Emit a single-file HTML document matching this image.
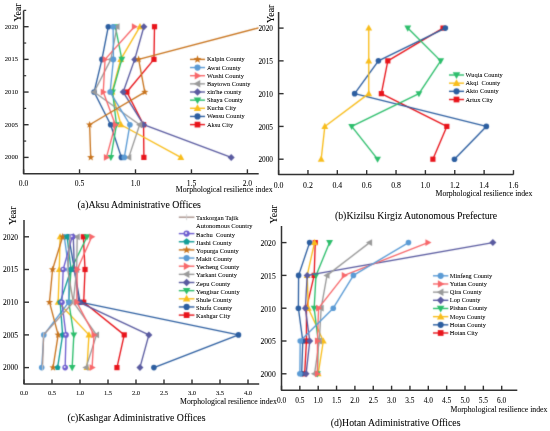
<!DOCTYPE html>
<html><head><meta charset="utf-8"><title>Morphological resilience index</title>
<style>
html,body{margin:0;padding:0;background:#fff;}
body{width:550px;height:431px;overflow:hidden;}
svg{display:block;}
#w{width:550px;height:431px;}
text{font-family:"Liberation Serif","Times New Roman",serif;}
</style></head><body>
<div id="w"><svg width="550" height="431" viewBox="0 0 550 431" font-family="'Liberation Serif', 'Times New Roman', serif"><g filter="url(#bl)"><rect width="550" height="431" fill="#fff"/><defs><filter id="bl" x="0" y="0" width="550" height="431" filterUnits="userSpaceOnUse" color-interpolation-filters="sRGB"><feConvolveMatrix order="3" kernelMatrix="0.0367 0.1915 0.0367 0.1915 1.0000 0.1915 0.0367 0.1915 0.0367" edgeMode="duplicate" preserveAlpha="true"/></filter><clipPath id="clipA"><rect x="0" y="0" width="258.5" height="200"/></clipPath></defs>
<path d="M143.89 157.4 L143.56 124.72 L126.88 92.05 L153.96 59.38 L154.52 26.7" fill="none" stroke="#E8141B" stroke-width="1.35" stroke-linejoin="round"/>
<rect x="141.29" y="154.8" width="5.2" height="5.2" fill="#E8141B"/>
<rect x="140.96" y="122.12" width="5.2" height="5.2" fill="#E8141B"/>
<rect x="124.28" y="89.45" width="5.2" height="5.2" fill="#E8141B"/>
<rect x="151.36" y="56.77" width="5.2" height="5.2" fill="#E8141B"/>
<rect x="151.92" y="24.1" width="5.2" height="5.2" fill="#E8141B"/>
<path d="M121.4 157.4 L110.66 124.72 L94.1 92.05 L101.93 59.38 L108.31 26.7" fill="none" stroke="#2C5EA0" stroke-width="1.35" stroke-linejoin="round"/>
<circle cx="121.4" cy="157.4" r="2.8" fill="#2C5EA0"/>
<circle cx="110.66" cy="124.72" r="2.8" fill="#2C5EA0"/>
<circle cx="94.1" cy="92.05" r="2.8" fill="#2C5EA0"/>
<circle cx="101.93" cy="59.38" r="2.8" fill="#2C5EA0"/>
<circle cx="108.31" cy="26.7" r="2.8" fill="#2C5EA0"/>
<path d="M180.82 157.4 L120.95 124.72 L112 92.05 L120.73 59.38 L139.98 26.7" fill="none" stroke="#F8BD1C" stroke-width="1.35" stroke-linejoin="round"/>
<polygon points="180.82,153.8 184.24,159.92 177.4,159.92" fill="#F8BD1C"/>
<polygon points="120.95,121.12 124.37,127.24 117.53,127.24" fill="#F8BD1C"/>
<polygon points="112,88.45 115.42,94.57 108.58,94.57" fill="#F8BD1C"/>
<polygon points="120.73,55.77 124.15,61.9 117.31,61.9" fill="#F8BD1C"/>
<polygon points="139.98,23.1 143.4,29.22 136.56,29.22" fill="#F8BD1C"/>
<path d="M110.88 157.4 L116.48 124.72 L112.56 92.05 L121.85 59.38 L115.36 26.7" fill="none" stroke="#2DBE6C" stroke-width="1.35" stroke-linejoin="round"/>
<polygon points="110.88,161 114.3,154.88 107.46,154.88" fill="#2DBE6C"/>
<polygon points="116.48,128.32 119.9,122.2 113.06,122.2" fill="#2DBE6C"/>
<polygon points="112.56,95.65 115.98,89.53 109.14,89.53" fill="#2DBE6C"/>
<polygon points="121.85,62.98 125.27,56.85 118.43,56.85" fill="#2DBE6C"/>
<polygon points="115.36,30.3 118.78,24.18 111.94,24.18" fill="#2DBE6C"/>
<path d="M231.17 157.4 L143.56 124.72 L123.19 92.05 L134.72 59.38 L143.89 26.7" fill="none" stroke="#5A5BA0" stroke-width="1.35" stroke-linejoin="round"/>
<polygon points="231.17,153.9 234.67,157.4 231.17,160.9 227.67,157.4" fill="#5A5BA0"/>
<polygon points="143.56,121.22 147.06,124.72 143.56,128.22 140.06,124.72" fill="#5A5BA0"/>
<polygon points="123.19,88.55 126.69,92.05 123.19,95.55 119.69,92.05" fill="#5A5BA0"/>
<polygon points="134.72,55.88 138.22,59.38 134.72,62.88 131.22,59.38" fill="#5A5BA0"/>
<polygon points="143.89,23.2 147.39,26.7 143.89,30.2 140.39,26.7" fill="#5A5BA0"/>
<path d="M128.79 157.4 L139.64 124.72 L94.1 92.05 L110.88 59.38 L117.04 26.7" fill="none" stroke="#9A9A9A" stroke-width="1.35" stroke-linejoin="round"/>
<polygon points="125.19,157.4 131.31,153.98 131.31,160.82" fill="#9A9A9A"/>
<polygon points="136.04,124.72 142.16,121.3 142.16,128.14" fill="#9A9A9A"/>
<polygon points="90.5,92.05 96.62,88.63 96.62,95.47" fill="#9A9A9A"/>
<polygon points="107.28,59.38 113.4,55.95 113.4,62.8" fill="#9A9A9A"/>
<polygon points="113.44,26.7 119.56,23.28 119.56,30.12" fill="#9A9A9A"/>
<path d="M106.41 157.4 L115.36 124.72 L103.27 92.05 L105.06 59.38 L134.38 26.7" fill="none" stroke="#F7686B" stroke-width="1.35" stroke-linejoin="round"/>
<polygon points="110.01,157.4 103.89,153.98 103.89,160.82" fill="#F7686B"/>
<polygon points="118.96,124.72 112.84,121.3 112.84,128.14" fill="#F7686B"/>
<polygon points="106.87,92.05 100.75,88.63 100.75,95.47" fill="#F7686B"/>
<polygon points="108.66,59.38 102.54,55.95 102.54,62.8" fill="#F7686B"/>
<polygon points="137.98,26.7 131.86,23.28 131.86,30.12" fill="#F7686B"/>
<path d="M124.31 157.4 L129.91 124.72 L110.1 92.05 L113.46 59.38 L113.12 26.7" fill="none" stroke="#5B9BD5" stroke-width="1.35" stroke-linejoin="round"/>
<circle cx="124.31" cy="157.4" r="2.8" fill="#5B9BD5"/>
<circle cx="129.91" cy="124.72" r="2.8" fill="#5B9BD5"/>
<circle cx="110.1" cy="92.05" r="2.8" fill="#5B9BD5"/>
<circle cx="113.46" cy="59.38" r="2.8" fill="#5B9BD5"/>
<circle cx="113.12" cy="26.7" r="2.8" fill="#5B9BD5"/>
<path d="M90.74 157.4 L89.62 124.72 L144.79 92.05 L138.63 59.38 L263.07 26.7" fill="none" stroke="#C8741E" stroke-width="1.35" stroke-linejoin="round" clip-path="url(#clipA)"/>
<polygon points="90.74,153.6 91.68,156.11 94.35,156.23 92.26,157.89 92.97,160.47 90.74,159 88.51,160.47 89.22,157.89 87.13,156.23 89.8,156.11" fill="#C8741E"/>
<polygon points="89.62,120.92 90.56,123.43 93.24,123.55 91.14,125.22 91.85,127.8 89.62,126.32 87.39,127.8 88.1,125.22 86.01,123.55 88.68,123.43" fill="#C8741E"/>
<polygon points="144.79,88.25 145.73,90.76 148.4,90.88 146.31,92.54 147.02,95.12 144.79,93.65 142.55,95.12 143.27,92.54 141.17,90.88 143.85,90.76" fill="#C8741E"/>
<polygon points="138.63,55.58 139.57,58.08 142.25,58.2 140.15,59.87 140.87,62.45 138.63,60.98 136.4,62.45 137.11,59.87 135.02,58.2 137.69,58.08" fill="#C8741E"/>
<line x1="190" y1="59.4" x2="205" y2="59.4" stroke="#C8741E" stroke-width="1.4"/>
<polygon points="197.5,55.22 198.53,57.98 201.48,58.11 199.17,59.94 199.96,62.78 197.5,61.16 195.04,62.78 195.83,59.94 193.52,58.11 196.47,57.98" fill="#C8741E"/>
<line x1="190" y1="67.55" x2="205" y2="67.55" stroke="#5B9BD5" stroke-width="1.4"/>
<circle cx="197.5" cy="67.55" r="3.08" fill="#5B9BD5"/>
<line x1="190" y1="75.7" x2="205" y2="75.7" stroke="#F7686B" stroke-width="1.4"/>
<polygon points="201.46,75.7 194.73,71.94 194.73,79.46" fill="#F7686B"/>
<line x1="190" y1="83.85" x2="205" y2="83.85" stroke="#9A9A9A" stroke-width="1.4"/>
<polygon points="193.54,83.85 200.27,80.09 200.27,87.61" fill="#9A9A9A"/>
<line x1="190" y1="92" x2="205" y2="92" stroke="#5A5BA0" stroke-width="1.4"/>
<polygon points="197.5,88.15 201.35,92 197.5,95.85 193.65,92" fill="#5A5BA0"/>
<line x1="190" y1="100.15" x2="205" y2="100.15" stroke="#2DBE6C" stroke-width="1.4"/>
<polygon points="197.5,104.11 201.26,97.38 193.74,97.38" fill="#2DBE6C"/>
<line x1="190" y1="108.3" x2="205" y2="108.3" stroke="#F8BD1C" stroke-width="1.4"/>
<polygon points="197.5,104.34 201.26,111.07 193.74,111.07" fill="#F8BD1C"/>
<line x1="190" y1="116.45" x2="205" y2="116.45" stroke="#2C5EA0" stroke-width="1.4"/>
<circle cx="197.5" cy="116.45" r="3.08" fill="#2C5EA0"/>
<line x1="190" y1="124.6" x2="205" y2="124.6" stroke="#E8141B" stroke-width="1.4"/>
<rect x="194.64" y="121.74" width="5.72" height="5.72" fill="#E8141B"/>
<path d="M432.89 159.2 L446.83 126.42 L381.36 93.65 L387.82 60.87 L443.02 28.1" fill="none" stroke="#E8141B" stroke-width="1.35" stroke-linejoin="round"/>
<rect x="430.29" y="156.6" width="5.2" height="5.2" fill="#E8141B"/>
<rect x="444.23" y="123.82" width="5.2" height="5.2" fill="#E8141B"/>
<rect x="378.76" y="91.05" width="5.2" height="5.2" fill="#E8141B"/>
<rect x="385.22" y="58.27" width="5.2" height="5.2" fill="#E8141B"/>
<rect x="440.42" y="25.5" width="5.2" height="5.2" fill="#E8141B"/>
<path d="M454.47 159.2 L486.32 126.42 L354.64 93.65 L378.42 60.87 L445.36 28.1" fill="none" stroke="#2C5EA0" stroke-width="1.35" stroke-linejoin="round"/>
<circle cx="454.47" cy="159.2" r="2.8" fill="#2C5EA0"/>
<circle cx="486.32" cy="126.42" r="2.8" fill="#2C5EA0"/>
<circle cx="354.64" cy="93.65" r="2.8" fill="#2C5EA0"/>
<circle cx="378.42" cy="60.87" r="2.8" fill="#2C5EA0"/>
<circle cx="445.36" cy="28.1" r="2.8" fill="#2C5EA0"/>
<path d="M321.17 159.2 L324.84 126.42 L368.74 93.65 L368.74 60.87 L368.74 28.1" fill="none" stroke="#F8BD1C" stroke-width="1.35" stroke-linejoin="round"/>
<polygon points="321.17,155.6 324.59,161.72 317.75,161.72" fill="#F8BD1C"/>
<polygon points="324.84,122.82 328.26,128.94 321.42,128.94" fill="#F8BD1C"/>
<polygon points="368.74,90.05 372.16,96.17 365.32,96.17" fill="#F8BD1C"/>
<polygon points="368.74,57.27 372.16,63.39 365.32,63.39" fill="#F8BD1C"/>
<polygon points="368.74,24.5 372.16,30.62 365.32,30.62" fill="#F8BD1C"/>
<path d="M377.54 159.2 L351.71 126.42 L418.94 93.65 L440.67 60.87 L407.78 28.1" fill="none" stroke="#2DBE6C" stroke-width="1.35" stroke-linejoin="round"/>
<polygon points="377.54,162.8 380.96,156.68 374.12,156.68" fill="#2DBE6C"/>
<polygon points="351.71,130.02 355.13,123.9 348.29,123.9" fill="#2DBE6C"/>
<polygon points="418.94,97.25 422.36,91.13 415.52,91.13" fill="#2DBE6C"/>
<polygon points="440.67,64.47 444.09,58.35 437.25,58.35" fill="#2DBE6C"/>
<polygon points="407.78,31.7 411.2,25.58 404.36,25.58" fill="#2DBE6C"/>
<line x1="449" y1="75" x2="464" y2="75" stroke="#2DBE6C" stroke-width="1.4"/>
<polygon points="456.5,78.96 460.26,72.23 452.74,72.23" fill="#2DBE6C"/>
<line x1="449" y1="83.17" x2="464" y2="83.17" stroke="#F8BD1C" stroke-width="1.4"/>
<polygon points="456.5,79.21 460.26,85.94 452.74,85.94" fill="#F8BD1C"/>
<line x1="449" y1="91.34" x2="464" y2="91.34" stroke="#2C5EA0" stroke-width="1.4"/>
<circle cx="456.5" cy="91.34" r="3.08" fill="#2C5EA0"/>
<line x1="449" y1="99.51" x2="464" y2="99.51" stroke="#E8141B" stroke-width="1.4"/>
<rect x="453.64" y="96.65" width="5.72" height="5.72" fill="#E8141B"/>
<path d="M116.96 367.6 L124.24 334.9 L83.7 302.2 L85.04 269.5 L83.36 236.8" fill="none" stroke="#E8141B" stroke-width="1.35" stroke-linejoin="round"/>
<rect x="114.36" y="365" width="5.2" height="5.2" fill="#E8141B"/>
<rect x="121.64" y="332.3" width="5.2" height="5.2" fill="#E8141B"/>
<rect x="81.1" y="299.6" width="5.2" height="5.2" fill="#E8141B"/>
<rect x="82.44" y="266.9" width="5.2" height="5.2" fill="#E8141B"/>
<rect x="80.76" y="234.2" width="5.2" height="5.2" fill="#E8141B"/>
<path d="M153.92 367.6 L238.48 334.9 L80 302.2 L74.4 269.5 L68.8 236.8" fill="none" stroke="#2C5EA0" stroke-width="1.35" stroke-linejoin="round"/>
<circle cx="153.92" cy="367.6" r="2.8" fill="#2C5EA0"/>
<circle cx="238.48" cy="334.9" r="2.8" fill="#2C5EA0"/>
<circle cx="80" cy="302.2" r="2.8" fill="#2C5EA0"/>
<circle cx="74.4" cy="269.5" r="2.8" fill="#2C5EA0"/>
<circle cx="68.8" cy="236.8" r="2.8" fill="#2C5EA0"/>
<path d="M87 367.6 L88.96 334.9 L58.16 302.2 L59.28 269.5 L60.12 236.8" fill="none" stroke="#F8BD1C" stroke-width="1.35" stroke-linejoin="round"/>
<polygon points="87,364 90.42,370.12 83.58,370.12" fill="#F8BD1C"/>
<polygon points="88.96,331.3 92.38,337.42 85.54,337.42" fill="#F8BD1C"/>
<polygon points="58.16,298.6 61.58,304.72 54.74,304.72" fill="#F8BD1C"/>
<polygon points="59.28,265.9 62.7,272.02 55.86,272.02" fill="#F8BD1C"/>
<polygon points="60.12,233.2 63.54,239.32 56.7,239.32" fill="#F8BD1C"/>
<path d="M72.16 367.6 L73.84 334.9 L68.8 302.2 L71.04 269.5 L87 236.8" fill="none" stroke="#2DBE6C" stroke-width="1.35" stroke-linejoin="round"/>
<polygon points="72.16,371.2 75.58,365.08 68.74,365.08" fill="#2DBE6C"/>
<polygon points="73.84,338.5 77.26,332.38 70.42,332.38" fill="#2DBE6C"/>
<polygon points="68.8,305.8 72.22,299.68 65.38,299.68" fill="#2DBE6C"/>
<polygon points="71.04,273.1 74.46,266.98 67.62,266.98" fill="#2DBE6C"/>
<polygon points="87,240.4 90.42,234.28 83.58,234.28" fill="#2DBE6C"/>
<path d="M139.92 367.6 L148.88 334.9 L78.88 302.2 L74.4 269.5 L73.28 236.8" fill="none" stroke="#5A5BA0" stroke-width="1.35" stroke-linejoin="round"/>
<polygon points="139.92,364.1 143.42,367.6 139.92,371.1 136.42,367.6" fill="#5A5BA0"/>
<polygon points="148.88,331.4 152.38,334.9 148.88,338.4 145.38,334.9" fill="#5A5BA0"/>
<polygon points="78.88,298.7 82.38,302.2 78.88,305.7 75.38,302.2" fill="#5A5BA0"/>
<polygon points="74.4,266 77.9,269.5 74.4,273 70.9,269.5" fill="#5A5BA0"/>
<polygon points="73.28,233.3 76.78,236.8 73.28,240.3 69.78,236.8" fill="#5A5BA0"/>
<path d="M85.99 367.6 L96.52 334.9 L73.28 302.2 L76.64 269.5 L77.2 236.8" fill="none" stroke="#9A9A9A" stroke-width="1.35" stroke-linejoin="round"/>
<polygon points="82.39,367.6 88.51,364.18 88.51,371.02" fill="#9A9A9A"/>
<polygon points="92.92,334.9 99.04,331.48 99.04,338.32" fill="#9A9A9A"/>
<polygon points="69.68,302.2 75.8,298.78 75.8,305.62" fill="#9A9A9A"/>
<polygon points="73.04,269.5 79.16,266.08 79.16,272.92" fill="#9A9A9A"/>
<polygon points="73.6,236.8 79.72,233.38 79.72,240.22" fill="#9A9A9A"/>
<path d="M92.1 367.6 L94 334.9 L76.81 302.2 L77.2 269.5 L91.76 236.8" fill="none" stroke="#F7686B" stroke-width="1.35" stroke-linejoin="round"/>
<polygon points="95.7,367.6 89.58,364.18 89.58,371.02" fill="#F7686B"/>
<polygon points="97.6,334.9 91.48,331.48 91.48,338.32" fill="#F7686B"/>
<polygon points="80.41,302.2 74.29,298.78 74.29,305.62" fill="#F7686B"/>
<polygon points="80.8,269.5 74.68,266.08 74.68,272.92" fill="#F7686B"/>
<polygon points="95.36,236.8 89.24,233.38 89.24,240.22" fill="#F7686B"/>
<path d="M41.7 367.6 L43.82 334.9 L68.8 302.2 L68.8 269.5 L64.32 236.8" fill="none" stroke="#5B9BD5" stroke-width="1.35" stroke-linejoin="round"/>
<circle cx="41.7" cy="367.6" r="2.8" fill="#5B9BD5"/>
<circle cx="43.82" cy="334.9" r="2.8" fill="#5B9BD5"/>
<circle cx="68.8" cy="302.2" r="2.8" fill="#5B9BD5"/>
<circle cx="68.8" cy="269.5" r="2.8" fill="#5B9BD5"/>
<circle cx="64.32" cy="236.8" r="2.8" fill="#5B9BD5"/>
<path d="M53.01 367.6 L58.16 334.9 L49.48 302.2 L52.56 269.5 L62.64 236.8" fill="none" stroke="#C8741E" stroke-width="1.35" stroke-linejoin="round"/>
<polygon points="53.01,363.8 53.95,366.31 56.62,366.43 54.53,368.09 55.24,370.67 53.01,369.2 50.77,370.67 51.49,368.09 49.39,366.43 52.07,366.31" fill="#C8741E"/>
<polygon points="58.16,331.1 59.1,333.61 61.77,333.73 59.68,335.39 60.39,337.97 58.16,336.5 55.93,337.97 56.64,335.39 54.55,333.73 57.22,333.61" fill="#C8741E"/>
<polygon points="49.48,298.4 50.42,300.91 53.09,301.03 51,302.69 51.71,305.27 49.48,303.8 47.25,305.27 47.96,302.69 45.87,301.03 48.54,300.91" fill="#C8741E"/>
<polygon points="52.56,265.7 53.5,268.21 56.17,268.33 54.08,269.99 54.79,272.57 52.56,271.1 50.33,272.57 51.04,269.99 48.95,268.33 51.62,268.21" fill="#C8741E"/>
<polygon points="62.64,233 63.58,235.51 66.25,235.63 64.16,237.29 64.87,239.87 62.64,238.4 60.41,239.87 61.12,237.29 59.03,235.63 61.7,235.51" fill="#C8741E"/>
<path d="M57.6 367.6 L62.64 334.9 L60.18 302.2 L71.04 269.5 L67.12 236.8" fill="none" stroke="#129E98" stroke-width="1.35" stroke-linejoin="round"/>
<polygon points="57.6,364.5 60.55,366.64 59.42,370.11 55.78,370.11 54.65,366.64" fill="#129E98"/>
<polygon points="62.64,331.8 65.59,333.94 64.46,337.41 60.82,337.41 59.69,333.94" fill="#129E98"/>
<polygon points="60.18,299.1 63.12,301.24 62,304.71 58.35,304.71 57.23,301.24" fill="#129E98"/>
<polygon points="71.04,266.4 73.99,268.54 72.86,272.01 69.22,272.01 68.09,268.54" fill="#129E98"/>
<polygon points="67.12,233.7 70.07,235.84 68.94,239.31 65.3,239.31 64.17,235.84" fill="#129E98"/>
<path d="M65.16 367.6 L66 334.9 L61.91 302.2 L63.2 269.5 L72.16 236.8" fill="none" stroke="#6E5ECF" stroke-width="1.35" stroke-linejoin="round"/>
<circle cx="65.16" cy="367.6" r="2.8" fill="#6E5ECF"/><circle cx="64.66" cy="367.1" r="1" fill="#fff" opacity="0.85"/>
<circle cx="66" cy="334.9" r="2.8" fill="#6E5ECF"/><circle cx="65.5" cy="334.4" r="1" fill="#fff" opacity="0.85"/>
<circle cx="61.91" cy="302.2" r="2.8" fill="#6E5ECF"/><circle cx="61.41" cy="301.7" r="1" fill="#fff" opacity="0.85"/>
<circle cx="63.2" cy="269.5" r="2.8" fill="#6E5ECF"/><circle cx="62.7" cy="269" r="1" fill="#fff" opacity="0.85"/>
<circle cx="72.16" cy="236.8" r="2.8" fill="#6E5ECF"/><circle cx="71.66" cy="236.3" r="1" fill="#fff" opacity="0.85"/>
<path d="M42.48 367.6 L43.6 334.9 L73.28 302.2 L67.68 269.5 L69.92 236.8" fill="none" stroke="#A8928C" stroke-width="1.35" stroke-linejoin="round"/>
<line x1="42.48" y1="364.6" x2="42.48" y2="370.6" stroke="#ccc" stroke-width="0.8"/>
<line x1="43.6" y1="331.9" x2="43.6" y2="337.9" stroke="#ccc" stroke-width="0.8"/>
<line x1="73.28" y1="299.2" x2="73.28" y2="305.2" stroke="#ccc" stroke-width="0.8"/>
<line x1="67.68" y1="266.5" x2="67.68" y2="272.5" stroke="#ccc" stroke-width="0.8"/>
<line x1="69.92" y1="233.8" x2="69.92" y2="239.8" stroke="#ccc" stroke-width="0.8"/>
<line x1="178.8" y1="217.2" x2="194.4" y2="217.2" stroke="#A8928C" stroke-width="1.4"/>
<line x1="186.6" y1="214.2" x2="186.6" y2="220.2" stroke="#ccc" stroke-width="0.8"/>
<line x1="178.8" y1="233.6" x2="194.4" y2="233.6" stroke="#6E5ECF" stroke-width="1.4"/>
<circle cx="186.6" cy="233.6" r="3.08" fill="#6E5ECF"/><circle cx="186.1" cy="233.1" r="1.1" fill="#fff" opacity="0.85"/>
<line x1="178.8" y1="241.75" x2="194.4" y2="241.75" stroke="#129E98" stroke-width="1.4"/>
<polygon points="186.6,238.34 189.84,240.7 188.6,244.51 184.6,244.51 183.36,240.7" fill="#129E98"/>
<line x1="178.8" y1="249.9" x2="194.4" y2="249.9" stroke="#C8741E" stroke-width="1.4"/>
<polygon points="186.6,245.72 187.63,248.48 190.58,248.61 188.27,250.44 189.06,253.28 186.6,251.66 184.14,253.28 184.93,250.44 182.62,248.61 185.57,248.48" fill="#C8741E"/>
<line x1="178.8" y1="258.05" x2="194.4" y2="258.05" stroke="#5B9BD5" stroke-width="1.4"/>
<circle cx="186.6" cy="258.05" r="3.08" fill="#5B9BD5"/>
<line x1="178.8" y1="266.2" x2="194.4" y2="266.2" stroke="#F7686B" stroke-width="1.4"/>
<polygon points="190.56,266.2 183.83,262.44 183.83,269.96" fill="#F7686B"/>
<line x1="178.8" y1="274.35" x2="194.4" y2="274.35" stroke="#9A9A9A" stroke-width="1.4"/>
<polygon points="182.64,274.35 189.37,270.59 189.37,278.11" fill="#9A9A9A"/>
<line x1="178.8" y1="282.5" x2="194.4" y2="282.5" stroke="#5A5BA0" stroke-width="1.4"/>
<polygon points="186.6,278.65 190.45,282.5 186.6,286.35 182.75,282.5" fill="#5A5BA0"/>
<line x1="178.8" y1="290.65" x2="194.4" y2="290.65" stroke="#2DBE6C" stroke-width="1.4"/>
<polygon points="186.6,294.61 190.36,287.88 182.84,287.88" fill="#2DBE6C"/>
<line x1="178.8" y1="298.8" x2="194.4" y2="298.8" stroke="#F8BD1C" stroke-width="1.4"/>
<polygon points="186.6,294.84 190.36,301.57 182.84,301.57" fill="#F8BD1C"/>
<line x1="178.8" y1="306.95" x2="194.4" y2="306.95" stroke="#2C5EA0" stroke-width="1.4"/>
<circle cx="186.6" cy="306.95" r="3.08" fill="#2C5EA0"/>
<line x1="178.8" y1="315.1" x2="194.4" y2="315.1" stroke="#E8141B" stroke-width="1.4"/>
<rect x="183.74" y="312.24" width="5.72" height="5.72" fill="#E8141B"/>
<path d="M304.62 373.8 L306.46 341 L306.46 308.2 L314.16 275.4 L315.26 242.6" fill="none" stroke="#E8141B" stroke-width="1.35" stroke-linejoin="round"/>
<rect x="302.02" y="371.2" width="5.2" height="5.2" fill="#E8141B"/>
<rect x="303.86" y="338.4" width="5.2" height="5.2" fill="#E8141B"/>
<rect x="303.86" y="305.6" width="5.2" height="5.2" fill="#E8141B"/>
<rect x="311.56" y="272.8" width="5.2" height="5.2" fill="#E8141B"/>
<rect x="312.66" y="240" width="5.2" height="5.2" fill="#E8141B"/>
<path d="M301.69 373.8 L302.79 341 L298.38 308.2 L298.6 275.4 L309.61 242.6" fill="none" stroke="#2C5EA0" stroke-width="1.35" stroke-linejoin="round"/>
<circle cx="301.69" cy="373.8" r="2.8" fill="#2C5EA0"/>
<circle cx="302.79" cy="341" r="2.8" fill="#2C5EA0"/>
<circle cx="298.38" cy="308.2" r="2.8" fill="#2C5EA0"/>
<circle cx="298.6" cy="275.4" r="2.8" fill="#2C5EA0"/>
<circle cx="309.61" cy="242.6" r="2.8" fill="#2C5EA0"/>
<path d="M318.2 373.8 L323.34 341 L308.29 308.2 L307.19 275.4 L314.53 242.6" fill="none" stroke="#F8BD1C" stroke-width="1.35" stroke-linejoin="round"/>
<polygon points="318.2,370.2 321.62,376.32 314.78,376.32" fill="#F8BD1C"/>
<polygon points="323.34,337.4 326.76,343.52 319.92,343.52" fill="#F8BD1C"/>
<polygon points="308.29,304.6 311.71,310.72 304.87,310.72" fill="#F8BD1C"/>
<polygon points="307.19,271.8 310.61,277.92 303.77,277.92" fill="#F8BD1C"/>
<polygon points="314.53,239 317.95,245.12 311.11,245.12" fill="#F8BD1C"/>
<path d="M317.47 373.8 L318.2 341 L314.16 308.2 L316 275.4 L329.58 242.6" fill="none" stroke="#2DBE6C" stroke-width="1.35" stroke-linejoin="round"/>
<polygon points="317.47,377.4 320.89,371.28 314.05,371.28" fill="#2DBE6C"/>
<polygon points="318.2,344.6 321.62,338.48 314.78,338.48" fill="#2DBE6C"/>
<polygon points="314.16,311.8 317.58,305.68 310.74,305.68" fill="#2DBE6C"/>
<polygon points="316,279 319.42,272.88 312.58,272.88" fill="#2DBE6C"/>
<polygon points="329.58,246.2 333,240.08 326.16,240.08" fill="#2DBE6C"/>
<path d="M306.09 373.8 L309.76 341 L305.36 308.2 L307.19 275.4 L492.89 242.6" fill="none" stroke="#5A5BA0" stroke-width="1.35" stroke-linejoin="round"/>
<polygon points="306.09,370.3 309.59,373.8 306.09,377.3 302.59,373.8" fill="#5A5BA0"/>
<polygon points="309.76,337.5 313.26,341 309.76,344.5 306.26,341" fill="#5A5BA0"/>
<polygon points="305.36,304.7 308.86,308.2 305.36,311.7 301.86,308.2" fill="#5A5BA0"/>
<polygon points="307.19,271.9 310.69,275.4 307.19,278.9 303.69,275.4" fill="#5A5BA0"/>
<polygon points="492.89,239.1 496.39,242.6 492.89,246.1 489.39,242.6" fill="#5A5BA0"/>
<path d="M314.53 373.8 L319.3 341 L321.14 308.2 L327.01 275.4 L369.58 242.6" fill="none" stroke="#9A9A9A" stroke-width="1.35" stroke-linejoin="round"/>
<polygon points="310.93,373.8 317.05,370.38 317.05,377.22" fill="#9A9A9A"/>
<polygon points="315.7,341 321.82,337.58 321.82,344.42" fill="#9A9A9A"/>
<polygon points="317.54,308.2 323.66,304.78 323.66,311.62" fill="#9A9A9A"/>
<polygon points="323.41,275.4 329.53,271.98 329.53,278.82" fill="#9A9A9A"/>
<polygon points="365.98,242.6 372.1,239.18 372.1,246.02" fill="#9A9A9A"/>
<path d="M317.47 373.8 L317.47 341 L318.57 308.2 L344.26 275.4 L427.93 242.6" fill="none" stroke="#F7686B" stroke-width="1.35" stroke-linejoin="round"/>
<polygon points="321.07,373.8 314.95,370.38 314.95,377.22" fill="#F7686B"/>
<polygon points="321.07,341 314.95,337.58 314.95,344.42" fill="#F7686B"/>
<polygon points="322.17,308.2 316.05,304.78 316.05,311.62" fill="#F7686B"/>
<polygon points="347.86,275.4 341.74,271.98 341.74,278.82" fill="#F7686B"/>
<polygon points="431.53,242.6 425.41,239.18 425.41,246.02" fill="#F7686B"/>
<path d="M299.85 373.8 L300.22 341 L333.25 308.2 L353.43 275.4 L408.48 242.6" fill="none" stroke="#5B9BD5" stroke-width="1.35" stroke-linejoin="round"/>
<circle cx="299.85" cy="373.8" r="2.8" fill="#5B9BD5"/>
<circle cx="300.22" cy="341" r="2.8" fill="#5B9BD5"/>
<circle cx="333.25" cy="308.2" r="2.8" fill="#5B9BD5"/>
<circle cx="353.43" cy="275.4" r="2.8" fill="#5B9BD5"/>
<circle cx="408.48" cy="242.6" r="2.8" fill="#5B9BD5"/>
<line x1="433" y1="275.8" x2="448.3" y2="275.8" stroke="#5B9BD5" stroke-width="1.4"/>
<circle cx="440.65" cy="275.8" r="3.08" fill="#5B9BD5"/>
<line x1="433" y1="283.97" x2="448.3" y2="283.97" stroke="#F7686B" stroke-width="1.4"/>
<polygon points="444.61,283.97 437.88,280.21 437.88,287.73" fill="#F7686B"/>
<line x1="433" y1="292.14" x2="448.3" y2="292.14" stroke="#9A9A9A" stroke-width="1.4"/>
<polygon points="436.69,292.14 443.42,288.38 443.42,295.9" fill="#9A9A9A"/>
<line x1="433" y1="300.31" x2="448.3" y2="300.31" stroke="#5A5BA0" stroke-width="1.4"/>
<polygon points="440.65,296.46 444.5,300.31 440.65,304.16 436.8,300.31" fill="#5A5BA0"/>
<line x1="433" y1="308.48" x2="448.3" y2="308.48" stroke="#2DBE6C" stroke-width="1.4"/>
<polygon points="440.65,312.44 444.41,305.71 436.89,305.71" fill="#2DBE6C"/>
<line x1="433" y1="316.65" x2="448.3" y2="316.65" stroke="#F8BD1C" stroke-width="1.4"/>
<polygon points="440.65,312.69 444.41,319.42 436.89,319.42" fill="#F8BD1C"/>
<line x1="433" y1="324.82" x2="448.3" y2="324.82" stroke="#2C5EA0" stroke-width="1.4"/>
<circle cx="440.65" cy="324.82" r="3.08" fill="#2C5EA0"/>
<line x1="433" y1="332.99" x2="448.3" y2="332.99" stroke="#E8141B" stroke-width="1.4"/>
<rect x="437.79" y="330.13" width="5.72" height="5.72" fill="#E8141B"/></g><g><path d="M23.6 10.4V173.8H258.7" fill="none" stroke="#333" stroke-width="1.5" stroke-linejoin="round"/>
<line x1="23.6" y1="157.4" x2="28.6" y2="157.4" stroke="#333" stroke-width="1.4"/>
<text x="18" y="156.8" font-size="6.6" text-anchor="end" font-weight="normal" dominant-baseline="central" fill="#000" stroke="#000" stroke-width="0.05">2000</text>
<line x1="23.6" y1="124.72" x2="28.6" y2="124.72" stroke="#333" stroke-width="1.4"/>
<text x="18" y="124.12" font-size="6.6" text-anchor="end" font-weight="normal" dominant-baseline="central" fill="#000" stroke="#000" stroke-width="0.05">2005</text>
<line x1="23.6" y1="92.05" x2="28.6" y2="92.05" stroke="#333" stroke-width="1.4"/>
<text x="18" y="91.45" font-size="6.6" text-anchor="end" font-weight="normal" dominant-baseline="central" fill="#000" stroke="#000" stroke-width="0.05">2010</text>
<line x1="23.6" y1="59.38" x2="28.6" y2="59.38" stroke="#333" stroke-width="1.4"/>
<text x="18" y="58.77" font-size="6.6" text-anchor="end" font-weight="normal" dominant-baseline="central" fill="#000" stroke="#000" stroke-width="0.05">2015</text>
<line x1="23.6" y1="26.7" x2="28.6" y2="26.7" stroke="#333" stroke-width="1.4"/>
<text x="18" y="26.1" font-size="6.6" text-anchor="end" font-weight="normal" dominant-baseline="central" fill="#000" stroke="#000" stroke-width="0.05">2020</text>
<line x1="23.6" y1="141.06" x2="26.2" y2="141.06" stroke="#333" stroke-width="1.2"/>
<line x1="23.6" y1="108.39" x2="26.2" y2="108.39" stroke="#333" stroke-width="1.2"/>
<line x1="23.6" y1="75.71" x2="26.2" y2="75.71" stroke="#333" stroke-width="1.2"/>
<line x1="23.6" y1="43.04" x2="26.2" y2="43.04" stroke="#333" stroke-width="1.2"/>
<line x1="23.6" y1="10.36" x2="26.2" y2="10.36" stroke="#333" stroke-width="1.2"/>
<line x1="23.6" y1="173.8" x2="23.6" y2="169.3" stroke="#333" stroke-width="1.4"/>
<text x="23.6" y="183.3" font-size="7.6" text-anchor="middle" font-weight="normal" dominant-baseline="central" fill="#000" stroke="#000" stroke-width="0.05">0.0</text>
<line x1="79.55" y1="173.8" x2="79.55" y2="169.3" stroke="#333" stroke-width="1.4"/>
<text x="79.55" y="183.3" font-size="7.6" text-anchor="middle" font-weight="normal" dominant-baseline="central" fill="#000" stroke="#000" stroke-width="0.05">0.5</text>
<line x1="135.5" y1="173.8" x2="135.5" y2="169.3" stroke="#333" stroke-width="1.4"/>
<text x="135.5" y="183.3" font-size="7.6" text-anchor="middle" font-weight="normal" dominant-baseline="central" fill="#000" stroke="#000" stroke-width="0.05">1.0</text>
<line x1="191.45" y1="173.8" x2="191.45" y2="169.3" stroke="#333" stroke-width="1.4"/>
<text x="191.45" y="183.3" font-size="7.6" text-anchor="middle" font-weight="normal" dominant-baseline="central" fill="#000" stroke="#000" stroke-width="0.05">1.5</text>
<line x1="247.4" y1="173.8" x2="247.4" y2="169.3" stroke="#333" stroke-width="1.4"/>
<text x="247.4" y="183.3" font-size="7.6" text-anchor="middle" font-weight="normal" dominant-baseline="central" fill="#000" stroke="#000" stroke-width="0.05">2.0</text>
<text x="175.8" y="189.3" font-size="7.75" text-anchor="start" font-weight="normal" dominant-baseline="central" fill="#000" stroke="#000" stroke-width="0.05">Morphological resilience index</text>
<text x="0" y="0" font-size="9.9" text-anchor="middle" dominant-baseline="central" fill="#000" stroke="#000" stroke-width="0.05" transform="translate(17.5 12.5) rotate(-90)">Year</text>
<path d="M278.6 12V174.6H513.5" fill="none" stroke="#333" stroke-width="1.5" stroke-linejoin="round"/>
<line x1="278.6" y1="159.2" x2="283.6" y2="159.2" stroke="#333" stroke-width="1.4"/>
<text x="273" y="159.8" font-size="7.3" text-anchor="end" font-weight="normal" dominant-baseline="central" fill="#000" stroke="#000" stroke-width="0.05">2000</text>
<line x1="278.6" y1="126.42" x2="283.6" y2="126.42" stroke="#333" stroke-width="1.4"/>
<text x="273" y="127.02" font-size="7.3" text-anchor="end" font-weight="normal" dominant-baseline="central" fill="#000" stroke="#000" stroke-width="0.05">2005</text>
<line x1="278.6" y1="93.65" x2="283.6" y2="93.65" stroke="#333" stroke-width="1.4"/>
<text x="273" y="94.25" font-size="7.3" text-anchor="end" font-weight="normal" dominant-baseline="central" fill="#000" stroke="#000" stroke-width="0.05">2010</text>
<line x1="278.6" y1="60.87" x2="283.6" y2="60.87" stroke="#333" stroke-width="1.4"/>
<text x="273" y="61.47" font-size="7.3" text-anchor="end" font-weight="normal" dominant-baseline="central" fill="#000" stroke="#000" stroke-width="0.05">2015</text>
<line x1="278.6" y1="28.1" x2="283.6" y2="28.1" stroke="#333" stroke-width="1.4"/>
<text x="273" y="28.7" font-size="7.3" text-anchor="end" font-weight="normal" dominant-baseline="central" fill="#000" stroke="#000" stroke-width="0.05">2020</text>
<line x1="278.6" y1="174.6" x2="278.6" y2="170.1" stroke="#333" stroke-width="1.4"/>
<text x="278.6" y="185" font-size="7.8" text-anchor="middle" font-weight="normal" dominant-baseline="central" fill="#000" stroke="#000" stroke-width="0.05">0.0</text>
<line x1="307.96" y1="174.6" x2="307.96" y2="170.1" stroke="#333" stroke-width="1.4"/>
<text x="307.96" y="185" font-size="7.8" text-anchor="middle" font-weight="normal" dominant-baseline="central" fill="#000" stroke="#000" stroke-width="0.05">0.2</text>
<line x1="337.32" y1="174.6" x2="337.32" y2="170.1" stroke="#333" stroke-width="1.4"/>
<text x="337.32" y="185" font-size="7.8" text-anchor="middle" font-weight="normal" dominant-baseline="central" fill="#000" stroke="#000" stroke-width="0.05">0.4</text>
<line x1="366.68" y1="174.6" x2="366.68" y2="170.1" stroke="#333" stroke-width="1.4"/>
<text x="366.68" y="185" font-size="7.8" text-anchor="middle" font-weight="normal" dominant-baseline="central" fill="#000" stroke="#000" stroke-width="0.05">0.6</text>
<line x1="396.04" y1="174.6" x2="396.04" y2="170.1" stroke="#333" stroke-width="1.4"/>
<text x="396.04" y="185" font-size="7.8" text-anchor="middle" font-weight="normal" dominant-baseline="central" fill="#000" stroke="#000" stroke-width="0.05">0.8</text>
<line x1="425.4" y1="174.6" x2="425.4" y2="170.1" stroke="#333" stroke-width="1.4"/>
<text x="425.4" y="185" font-size="7.8" text-anchor="middle" font-weight="normal" dominant-baseline="central" fill="#000" stroke="#000" stroke-width="0.05">1.0</text>
<line x1="454.76" y1="174.6" x2="454.76" y2="170.1" stroke="#333" stroke-width="1.4"/>
<text x="454.76" y="185" font-size="7.8" text-anchor="middle" font-weight="normal" dominant-baseline="central" fill="#000" stroke="#000" stroke-width="0.05">1.2</text>
<line x1="484.12" y1="174.6" x2="484.12" y2="170.1" stroke="#333" stroke-width="1.4"/>
<text x="484.12" y="185" font-size="7.8" text-anchor="middle" font-weight="normal" dominant-baseline="central" fill="#000" stroke="#000" stroke-width="0.05">1.4</text>
<line x1="513.48" y1="174.6" x2="513.48" y2="170.1" stroke="#333" stroke-width="1.4"/>
<text x="513.48" y="185" font-size="7.8" text-anchor="middle" font-weight="normal" dominant-baseline="central" fill="#000" stroke="#000" stroke-width="0.05">1.6</text>
<text x="435.5" y="193.5" font-size="7.75" text-anchor="start" font-weight="normal" dominant-baseline="central" fill="#000" stroke="#000" stroke-width="0.05">Morphological resilience index</text>
<text x="0" y="0" font-size="9.9" text-anchor="middle" dominant-baseline="central" fill="#000" stroke="#000" stroke-width="0.05" transform="translate(270.5 13.8) rotate(-90)">Year</text>
<path d="M24 220V384H259.2" fill="none" stroke="#333" stroke-width="1.5" stroke-linejoin="round"/>
<line x1="24" y1="367.6" x2="29" y2="367.6" stroke="#333" stroke-width="1.4"/>
<text x="18" y="367.9" font-size="7.5" text-anchor="end" font-weight="normal" dominant-baseline="central" fill="#000" stroke="#000" stroke-width="0.05">2000</text>
<line x1="24" y1="334.9" x2="29" y2="334.9" stroke="#333" stroke-width="1.4"/>
<text x="18" y="335.2" font-size="7.5" text-anchor="end" font-weight="normal" dominant-baseline="central" fill="#000" stroke="#000" stroke-width="0.05">2005</text>
<line x1="24" y1="302.2" x2="29" y2="302.2" stroke="#333" stroke-width="1.4"/>
<text x="18" y="302.5" font-size="7.5" text-anchor="end" font-weight="normal" dominant-baseline="central" fill="#000" stroke="#000" stroke-width="0.05">2010</text>
<line x1="24" y1="269.5" x2="29" y2="269.5" stroke="#333" stroke-width="1.4"/>
<text x="18" y="269.8" font-size="7.5" text-anchor="end" font-weight="normal" dominant-baseline="central" fill="#000" stroke="#000" stroke-width="0.05">2015</text>
<line x1="24" y1="236.8" x2="29" y2="236.8" stroke="#333" stroke-width="1.4"/>
<text x="18" y="237.1" font-size="7.5" text-anchor="end" font-weight="normal" dominant-baseline="central" fill="#000" stroke="#000" stroke-width="0.05">2020</text>
<line x1="24" y1="384" x2="24" y2="379.5" stroke="#333" stroke-width="1.4"/>
<text x="24" y="392.1" font-size="6.6" text-anchor="middle" font-weight="normal" dominant-baseline="central" fill="#000" stroke="#000" stroke-width="0.05">0.0</text>
<line x1="52" y1="384" x2="52" y2="379.5" stroke="#333" stroke-width="1.4"/>
<text x="52" y="392.1" font-size="6.6" text-anchor="middle" font-weight="normal" dominant-baseline="central" fill="#000" stroke="#000" stroke-width="0.05">0.5</text>
<line x1="80" y1="384" x2="80" y2="379.5" stroke="#333" stroke-width="1.4"/>
<text x="80" y="392.1" font-size="6.6" text-anchor="middle" font-weight="normal" dominant-baseline="central" fill="#000" stroke="#000" stroke-width="0.05">1.0</text>
<line x1="108" y1="384" x2="108" y2="379.5" stroke="#333" stroke-width="1.4"/>
<text x="108" y="392.1" font-size="6.6" text-anchor="middle" font-weight="normal" dominant-baseline="central" fill="#000" stroke="#000" stroke-width="0.05">1.5</text>
<line x1="136" y1="384" x2="136" y2="379.5" stroke="#333" stroke-width="1.4"/>
<text x="136" y="392.1" font-size="6.6" text-anchor="middle" font-weight="normal" dominant-baseline="central" fill="#000" stroke="#000" stroke-width="0.05">2.0</text>
<line x1="164" y1="384" x2="164" y2="379.5" stroke="#333" stroke-width="1.4"/>
<text x="164" y="392.1" font-size="6.6" text-anchor="middle" font-weight="normal" dominant-baseline="central" fill="#000" stroke="#000" stroke-width="0.05">2.5</text>
<line x1="192" y1="384" x2="192" y2="379.5" stroke="#333" stroke-width="1.4"/>
<text x="192" y="392.1" font-size="6.6" text-anchor="middle" font-weight="normal" dominant-baseline="central" fill="#000" stroke="#000" stroke-width="0.05">3.0</text>
<line x1="220" y1="384" x2="220" y2="379.5" stroke="#333" stroke-width="1.4"/>
<text x="220" y="392.1" font-size="6.6" text-anchor="middle" font-weight="normal" dominant-baseline="central" fill="#000" stroke="#000" stroke-width="0.05">3.5</text>
<line x1="248" y1="384" x2="248" y2="379.5" stroke="#333" stroke-width="1.4"/>
<text x="248" y="392.1" font-size="6.6" text-anchor="middle" font-weight="normal" dominant-baseline="central" fill="#000" stroke="#000" stroke-width="0.05">4.0</text>
<text x="180" y="401.3" font-size="7.75" text-anchor="start" font-weight="normal" dominant-baseline="central" fill="#000" stroke="#000" stroke-width="0.05">Morphological resilience index</text>
<text x="0" y="0" font-size="9.9" text-anchor="middle" dominant-baseline="central" fill="#000" stroke="#000" stroke-width="0.05" transform="translate(12.5 215.6) rotate(-90)">Year</text>
<path d="M281.5 226V390.2H517.3" fill="none" stroke="#333" stroke-width="1.5" stroke-linejoin="round"/>
<line x1="281.5" y1="373.8" x2="286.5" y2="373.8" stroke="#333" stroke-width="1.4"/>
<text x="275.7" y="374.7" font-size="7.6" text-anchor="end" font-weight="normal" dominant-baseline="central" fill="#000" stroke="#000" stroke-width="0.05">2000</text>
<line x1="281.5" y1="341" x2="286.5" y2="341" stroke="#333" stroke-width="1.4"/>
<text x="275.7" y="341.9" font-size="7.6" text-anchor="end" font-weight="normal" dominant-baseline="central" fill="#000" stroke="#000" stroke-width="0.05">2005</text>
<line x1="281.5" y1="308.2" x2="286.5" y2="308.2" stroke="#333" stroke-width="1.4"/>
<text x="275.7" y="309.1" font-size="7.6" text-anchor="end" font-weight="normal" dominant-baseline="central" fill="#000" stroke="#000" stroke-width="0.05">2010</text>
<line x1="281.5" y1="275.4" x2="286.5" y2="275.4" stroke="#333" stroke-width="1.4"/>
<text x="275.7" y="276.3" font-size="7.6" text-anchor="end" font-weight="normal" dominant-baseline="central" fill="#000" stroke="#000" stroke-width="0.05">2015</text>
<line x1="281.5" y1="242.6" x2="286.5" y2="242.6" stroke="#333" stroke-width="1.4"/>
<text x="275.7" y="243.5" font-size="7.6" text-anchor="end" font-weight="normal" dominant-baseline="central" fill="#000" stroke="#000" stroke-width="0.05">2020</text>
<line x1="281.5" y1="390.2" x2="281.5" y2="385.7" stroke="#333" stroke-width="1.4"/>
<text x="281.5" y="400.3" font-size="7.4" text-anchor="middle" font-weight="normal" dominant-baseline="central" fill="#000" stroke="#000" stroke-width="0.05">0.0</text>
<line x1="299.85" y1="390.2" x2="299.85" y2="385.7" stroke="#333" stroke-width="1.4"/>
<text x="299.85" y="400.3" font-size="7.4" text-anchor="middle" font-weight="normal" dominant-baseline="central" fill="#000" stroke="#000" stroke-width="0.05">0.5</text>
<line x1="318.2" y1="390.2" x2="318.2" y2="385.7" stroke="#333" stroke-width="1.4"/>
<text x="318.2" y="400.3" font-size="7.4" text-anchor="middle" font-weight="normal" dominant-baseline="central" fill="#000" stroke="#000" stroke-width="0.05">1.0</text>
<line x1="336.55" y1="390.2" x2="336.55" y2="385.7" stroke="#333" stroke-width="1.4"/>
<text x="336.55" y="400.3" font-size="7.4" text-anchor="middle" font-weight="normal" dominant-baseline="central" fill="#000" stroke="#000" stroke-width="0.05">1.5</text>
<line x1="354.9" y1="390.2" x2="354.9" y2="385.7" stroke="#333" stroke-width="1.4"/>
<text x="354.9" y="400.3" font-size="7.4" text-anchor="middle" font-weight="normal" dominant-baseline="central" fill="#000" stroke="#000" stroke-width="0.05">2.0</text>
<line x1="373.25" y1="390.2" x2="373.25" y2="385.7" stroke="#333" stroke-width="1.4"/>
<text x="373.25" y="400.3" font-size="7.4" text-anchor="middle" font-weight="normal" dominant-baseline="central" fill="#000" stroke="#000" stroke-width="0.05">2.5</text>
<line x1="391.6" y1="390.2" x2="391.6" y2="385.7" stroke="#333" stroke-width="1.4"/>
<text x="391.6" y="400.3" font-size="7.4" text-anchor="middle" font-weight="normal" dominant-baseline="central" fill="#000" stroke="#000" stroke-width="0.05">3.0</text>
<line x1="409.95" y1="390.2" x2="409.95" y2="385.7" stroke="#333" stroke-width="1.4"/>
<text x="409.95" y="400.3" font-size="7.4" text-anchor="middle" font-weight="normal" dominant-baseline="central" fill="#000" stroke="#000" stroke-width="0.05">3.5</text>
<line x1="428.3" y1="390.2" x2="428.3" y2="385.7" stroke="#333" stroke-width="1.4"/>
<text x="428.3" y="400.3" font-size="7.4" text-anchor="middle" font-weight="normal" dominant-baseline="central" fill="#000" stroke="#000" stroke-width="0.05">4.0</text>
<line x1="446.65" y1="390.2" x2="446.65" y2="385.7" stroke="#333" stroke-width="1.4"/>
<text x="446.65" y="400.3" font-size="7.4" text-anchor="middle" font-weight="normal" dominant-baseline="central" fill="#000" stroke="#000" stroke-width="0.05">4.5</text>
<line x1="465" y1="390.2" x2="465" y2="385.7" stroke="#333" stroke-width="1.4"/>
<text x="465" y="400.3" font-size="7.4" text-anchor="middle" font-weight="normal" dominant-baseline="central" fill="#000" stroke="#000" stroke-width="0.05">5.0</text>
<line x1="483.35" y1="390.2" x2="483.35" y2="385.7" stroke="#333" stroke-width="1.4"/>
<text x="483.35" y="400.3" font-size="7.4" text-anchor="middle" font-weight="normal" dominant-baseline="central" fill="#000" stroke="#000" stroke-width="0.05">5.5</text>
<line x1="501.7" y1="390.2" x2="501.7" y2="385.7" stroke="#333" stroke-width="1.4"/>
<text x="501.7" y="400.3" font-size="7.4" text-anchor="middle" font-weight="normal" dominant-baseline="central" fill="#000" stroke="#000" stroke-width="0.05">6.0</text>
<text x="450.5" y="409" font-size="7.75" text-anchor="start" font-weight="normal" dominant-baseline="central" fill="#000" stroke="#000" stroke-width="0.05">Morphological resilience index</text>
<text x="0" y="0" font-size="9.9" text-anchor="middle" dominant-baseline="central" fill="#000" stroke="#000" stroke-width="0.05" transform="translate(273.4 214.3) rotate(-90)">Year</text>
<text x="0" y="0" font-size="6.4" dominant-baseline="central" fill="#000" stroke="#000" stroke-width="0.05" transform="translate(207 58.8) scale(1 1.1)">Kalpin County</text>
<text x="0" y="0" font-size="6.4" dominant-baseline="central" fill="#000" stroke="#000" stroke-width="0.05" transform="translate(207 66.95) scale(1 1.1)">Awat County</text>
<text x="0" y="0" font-size="6.4" dominant-baseline="central" fill="#000" stroke="#000" stroke-width="0.05" transform="translate(207 75.1) scale(1 1.1)">Wushi County</text>
<text x="0" y="0" font-size="6.4" dominant-baseline="central" fill="#000" stroke="#000" stroke-width="0.05" transform="translate(207 83.25) scale(1 1.1)">Baytown County</text>
<text x="0" y="0" font-size="6.4" dominant-baseline="central" fill="#000" stroke="#000" stroke-width="0.05" transform="translate(207 91.4) scale(1 1.1)">xin'he county</text>
<text x="0" y="0" font-size="6.4" dominant-baseline="central" fill="#000" stroke="#000" stroke-width="0.05" transform="translate(207 99.55) scale(1 1.1)">Shaya County</text>
<text x="0" y="0" font-size="6.4" dominant-baseline="central" fill="#000" stroke="#000" stroke-width="0.05" transform="translate(207 107.7) scale(1 1.1)">Kucha City</text>
<text x="0" y="0" font-size="6.4" dominant-baseline="central" fill="#000" stroke="#000" stroke-width="0.05" transform="translate(207 115.85) scale(1 1.1)">Wensu County</text>
<text x="0" y="0" font-size="6.4" dominant-baseline="central" fill="#000" stroke="#000" stroke-width="0.05" transform="translate(207 124) scale(1 1.1)">Aksu City</text>
<text x="139.2" y="204.5" font-size="9.8" text-anchor="middle" font-weight="normal" dominant-baseline="central" fill="#000" stroke="#000" stroke-width="0.05">(a)Aksu Administrative Offices</text>
<text x="0" y="0" font-size="6.4" dominant-baseline="central" fill="#000" stroke="#000" stroke-width="0.05" transform="translate(465.5 74.4) scale(1 1.1)">Wuqia County</text>
<text x="0" y="0" font-size="6.4" dominant-baseline="central" fill="#000" stroke="#000" stroke-width="0.05" transform="translate(465.5 82.57) scale(1 1.1)">Akqi&#160; County</text>
<text x="0" y="0" font-size="6.4" dominant-baseline="central" fill="#000" stroke="#000" stroke-width="0.05" transform="translate(465.5 90.74) scale(1 1.1)">Akto County</text>
<text x="0" y="0" font-size="6.4" dominant-baseline="central" fill="#000" stroke="#000" stroke-width="0.05" transform="translate(465.5 98.91) scale(1 1.1)">Artux City</text>
<text x="416.1" y="215.6" font-size="9.8" text-anchor="middle" font-weight="normal" dominant-baseline="central" fill="#000" stroke="#000" stroke-width="0.05">(b)Kizilsu Kirgiz Autonomous Prefecture</text>
<text x="0" y="0" font-size="6.5" dominant-baseline="central" fill="#000" stroke="#000" stroke-width="0.05" transform="translate(196.1 217.6) scale(1 1.1)">Taxkorgan Tajik</text>
<text x="0" y="0" font-size="6.5" dominant-baseline="central" fill="#000" stroke="#000" stroke-width="0.05" transform="translate(196.1 225.8) scale(1 1.1)">Autonomous Country</text>
<text x="0" y="0" font-size="6.5" dominant-baseline="central" fill="#000" stroke="#000" stroke-width="0.05" transform="translate(196.1 234) scale(1 1.1)">Bachu&#160; County</text>
<text x="0" y="0" font-size="6.5" dominant-baseline="central" fill="#000" stroke="#000" stroke-width="0.05" transform="translate(196.1 242.15) scale(1 1.1)">Jiashi County</text>
<text x="0" y="0" font-size="6.5" dominant-baseline="central" fill="#000" stroke="#000" stroke-width="0.05" transform="translate(196.1 250.3) scale(1 1.1)">Yopurga County</text>
<text x="0" y="0" font-size="6.5" dominant-baseline="central" fill="#000" stroke="#000" stroke-width="0.05" transform="translate(196.1 258.45) scale(1 1.1)">Makit County</text>
<text x="0" y="0" font-size="6.5" dominant-baseline="central" fill="#000" stroke="#000" stroke-width="0.05" transform="translate(196.1 266.6) scale(1 1.1)">Yecheng County</text>
<text x="0" y="0" font-size="6.5" dominant-baseline="central" fill="#000" stroke="#000" stroke-width="0.05" transform="translate(196.1 274.75) scale(1 1.1)">Yarkant County</text>
<text x="0" y="0" font-size="6.5" dominant-baseline="central" fill="#000" stroke="#000" stroke-width="0.05" transform="translate(196.1 282.9) scale(1 1.1)">Zepu County</text>
<text x="0" y="0" font-size="6.5" dominant-baseline="central" fill="#000" stroke="#000" stroke-width="0.05" transform="translate(196.1 291.05) scale(1 1.1)">Yengisar County</text>
<text x="0" y="0" font-size="6.5" dominant-baseline="central" fill="#000" stroke="#000" stroke-width="0.05" transform="translate(196.1 299.2) scale(1 1.1)">Shule County</text>
<text x="0" y="0" font-size="6.5" dominant-baseline="central" fill="#000" stroke="#000" stroke-width="0.05" transform="translate(196.1 307.35) scale(1 1.1)">Shufu County</text>
<text x="0" y="0" font-size="6.5" dominant-baseline="central" fill="#000" stroke="#000" stroke-width="0.05" transform="translate(196.1 315.5) scale(1 1.1)">Kashgar City</text>
<text x="136.5" y="417.5" font-size="9.8" text-anchor="middle" font-weight="normal" dominant-baseline="central" fill="#000" stroke="#000" stroke-width="0.05">(c)Kashgar Adiministrative Offices</text>
<text x="0" y="0" font-size="6.4" dominant-baseline="central" fill="#000" stroke="#000" stroke-width="0.05" transform="translate(449.8 275.2) scale(1 1.1)">Minfeng County</text>
<text x="0" y="0" font-size="6.4" dominant-baseline="central" fill="#000" stroke="#000" stroke-width="0.05" transform="translate(449.8 283.37) scale(1 1.1)">Yutian County</text>
<text x="0" y="0" font-size="6.4" dominant-baseline="central" fill="#000" stroke="#000" stroke-width="0.05" transform="translate(449.8 291.54) scale(1 1.1)">Qira County</text>
<text x="0" y="0" font-size="6.4" dominant-baseline="central" fill="#000" stroke="#000" stroke-width="0.05" transform="translate(449.8 299.71) scale(1 1.1)">Lop County</text>
<text x="0" y="0" font-size="6.4" dominant-baseline="central" fill="#000" stroke="#000" stroke-width="0.05" transform="translate(449.8 307.88) scale(1 1.1)">Pishan County</text>
<text x="0" y="0" font-size="6.4" dominant-baseline="central" fill="#000" stroke="#000" stroke-width="0.05" transform="translate(449.8 316.05) scale(1 1.1)">Moyu County</text>
<text x="0" y="0" font-size="6.4" dominant-baseline="central" fill="#000" stroke="#000" stroke-width="0.05" transform="translate(449.8 324.22) scale(1 1.1)">Hotan County</text>
<text x="0" y="0" font-size="6.4" dominant-baseline="central" fill="#000" stroke="#000" stroke-width="0.05" transform="translate(449.8 332.39) scale(1 1.1)">Hotan City</text>
<text x="395.6" y="422.8" font-size="9.8" text-anchor="middle" font-weight="normal" dominant-baseline="central" fill="#000" stroke="#000" stroke-width="0.05">(d)Hotan Adiministrative Offices</text></g></svg></div>
</body></html>
